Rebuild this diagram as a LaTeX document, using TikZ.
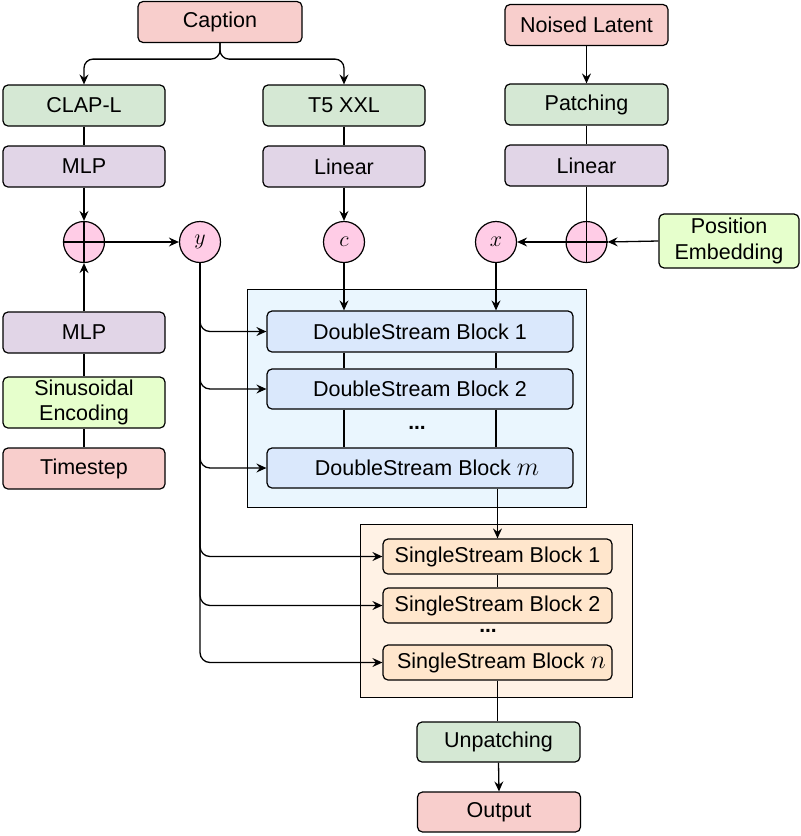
\documentclass[tikz,border=0pt]{standalone}
\usepackage{fix-cm}
\usepackage{fontspec}
\setmainfont{Liberation Sans}
\usetikzlibrary{arrows.meta,calc}
\definecolor{redf}{HTML}{F8CECC}
\definecolor{greenf}{HTML}{D5E8D4}
\definecolor{purplef}{HTML}{E1D5E7}
\definecolor{limef}{HTML}{E6FFCC}
\definecolor{pinkf}{HTML}{FFCCE6}
\definecolor{bluecont}{HTML}{EAF6FE}
\definecolor{blueblk}{HTML}{DAE8FC}
\definecolor{orangecont}{HTML}{FFF2E5}
\definecolor{orangeblk}{HTML}{FFE6CC}
\newcommand{\bigmath}[1]{{\fontsize{26}{26}\selectfont$#1$}}
\tikzset{
  box/.style={draw, rounded corners=5pt, line width=1.2pt, align=center,
    inner sep=0pt, font=\fontsize{21.5}{25}\selectfont, minimum height=41pt},
  wide/.style={minimum width=162pt},
  circ/.style={draw, circle, line width=1.2pt, fill=pinkf, minimum size=41pt,
    inner sep=0pt, font=\fontsize{22}{22}\selectfont},
  cont/.style={draw, line width=1pt, inner sep=0pt},
  ln/.style={line width=1.3pt},
  arr/.style={line width=1.3pt, -{Stealth[length=10pt,width=9pt,inset=3.5pt]}},
  dotsty/.style={font=\fontsize{21}{21}\selectfont\bfseries, inner sep=0pt}
}
\begin{document}
\begin{tikzpicture}[x=1pt,y=-1pt]
\useasboundingbox (0,0) rectangle (801,836);
% containers
\node[cont, fill=bluecont, minimum width=339pt, minimum height=218pt] (dsgroup) at (416.5,398) {};
\node[cont, fill=orangecont, minimum width=272pt, minimum height=173pt] (ssgroup) at (496,610.5) {};
% top row
\node[box, fill=redf, minimum width=164pt] (cap) at (220,22) {Caption};
\node[box, fill=redf, minimum width=163pt] (noised) at (586.5,25) {Noised Latent};
\node[box, wide, fill=greenf] (clap) at (84,105.5) {CLAP-L};
\node[box, wide, fill=greenf] (t5) at (344,105.5) {T5 XXL};
\node[box, fill=greenf, minimum width=163pt] (patch) at (586.5,104.5) {Patching};
\node[box, wide, fill=purplef] (mlpa) at (84,166.5) {MLP};
\node[box, wide, fill=purplef] (lina) at (344,166.5) {Linear};
\node[box, fill=purplef, minimum width=163pt] (linb) at (586.5,165.5) {Linear};
% circles
\node[circ] (plusa) at (84,242) {};
\draw[ln] (plusa.north) -- (plusa.south) (plusa.west) -- (plusa.east);
\node[circ] (yc) at (200,242) {$y$};
\node[circ] (cc) at (344,242) {$c$};
\node[circ] (xc) at (496,242) {$x$};
\node[circ] (plusb) at (586.5,242) {};
\draw[ln] (plusb.north) -- (plusb.south) (plusb.west) -- (plusb.east);
\node[box, fill=limef, minimum width=140pt, minimum height=54pt, font=\fontsize{21.5}{26}\selectfont] (pos) at (729,241) {Position\\Embedding};
% left lower
\node[box, wide, fill=purplef] (mlpb) at (84,332.5) {MLP};
\node[box, wide, fill=limef, minimum height=51pt, font=\fontsize{21.5}{25}\selectfont] (sin) at (84,402.5) {Sinusoidal\\Encoding};
\node[box, wide, fill=redf] (time) at (84,468.5) {Timestep};
% double stream
\node[box, fill=blueblk, minimum width=306pt] (dsa) at (420,331.5) {DoubleStream Block 1};
\node[box, fill=blueblk, minimum width=306pt, minimum height=40pt] (dsb) at (420,389) {DoubleStream Block 2};
\node[dotsty] (dotsa) at (417,428) {...};
\node[box, fill=blueblk, minimum width=306pt, minimum height=40pt] (dsm) at (420,468) {\hspace{14pt}DoubleStream Block \bigmath{m}};
% single stream
\node[box, fill=orangeblk, minimum width=229pt, minimum height=35pt] (ssa) at (497.5,556.5) {SingleStream Block 1};
\node[box, fill=orangeblk, minimum width=229pt, minimum height=35pt] (ssb) at (497.5,605.5) {SingleStream Block 2};
\node[dotsty] (dotsb) at (488,631) {...};
\node[box, fill=orangeblk, minimum width=229pt, minimum height=35pt] (ssn) at (497.5,662.5) {\hspace{8pt}SingleStream Block \bigmath{n}};
\node[box, fill=greenf, minimum width=163pt, minimum height=40pt] (unp) at (498.5,742) {Unpatching};
\node[box, fill=redf, minimum width=163pt, minimum height=40pt] (out) at (499,812) {Output};
% connectors
\draw[arr, rounded corners=9pt] (cap.south) -- ++(0,16) -| (clap.north);
\draw[arr, rounded corners=9pt] (cap.south) -- ++(0,16) -| (t5.north);
\draw[ln] (clap.south) -- (mlpa.north);
\draw[arr] (mlpa.south) -- (plusa.north);
\draw[arr] (mlpb.north) -- (plusa.south);
\draw[ln] (sin.north) -- (mlpb.south);
\draw[ln] (time.north) -- (sin.south);
\draw[arr] (plusa.east) -- (yc.west);
\draw[ln] (t5.south) -- (lina.north);
\draw[arr] (lina.south) -- (cc.north);
\draw[arr] (noised.south) -- (patch.north);
\draw[ln] (patch.south) -- (linb.north);
\draw[ln] (linb.south) -- (plusb.north);
\draw[arr] (pos.west) -- (plusb.east);
\draw[arr] (plusb.west) -- (xc.east);
\draw[arr] (cc.south) -- (cc.south |- dsa.north);
\draw[arr] (xc.south) -- (xc.south |- dsa.north);
\draw[ln] (cc.south |- dsa.south) -- (cc.south |- dsb.north);
\draw[ln] (xc.south |- dsa.south) -- (xc.south |- dsb.north);
\draw[ln] (cc.south |- dsb.south) -- (cc.south |- dsm.north);
\draw[ln] (xc.south |- dsb.south) -- (xc.south |- dsm.north);
\draw[arr] (ssa.north |- dsm.south) -- (ssa.north);
\draw[ln] (ssa.south) -- (ssb.north);
\draw[ln] (ssn.south) -- (ssn.south |- unp.north);
\draw[arr] (unp.south) -- (out.north);
% y branches
\draw[arr, rounded corners=10pt] (yc.south) |- (dsa.west);
\draw[arr, rounded corners=10pt] (yc.south) |- (dsb.west);
\draw[arr, rounded corners=10pt] (yc.south) |- (dsm.west);
\draw[arr, rounded corners=10pt] (yc.south) |- (ssa.west);
\draw[arr, rounded corners=10pt] (yc.south) |- (ssb.west);
\draw[arr, rounded corners=10pt] (yc.south) |- (ssn.west);
\end{tikzpicture}
\end{document}
